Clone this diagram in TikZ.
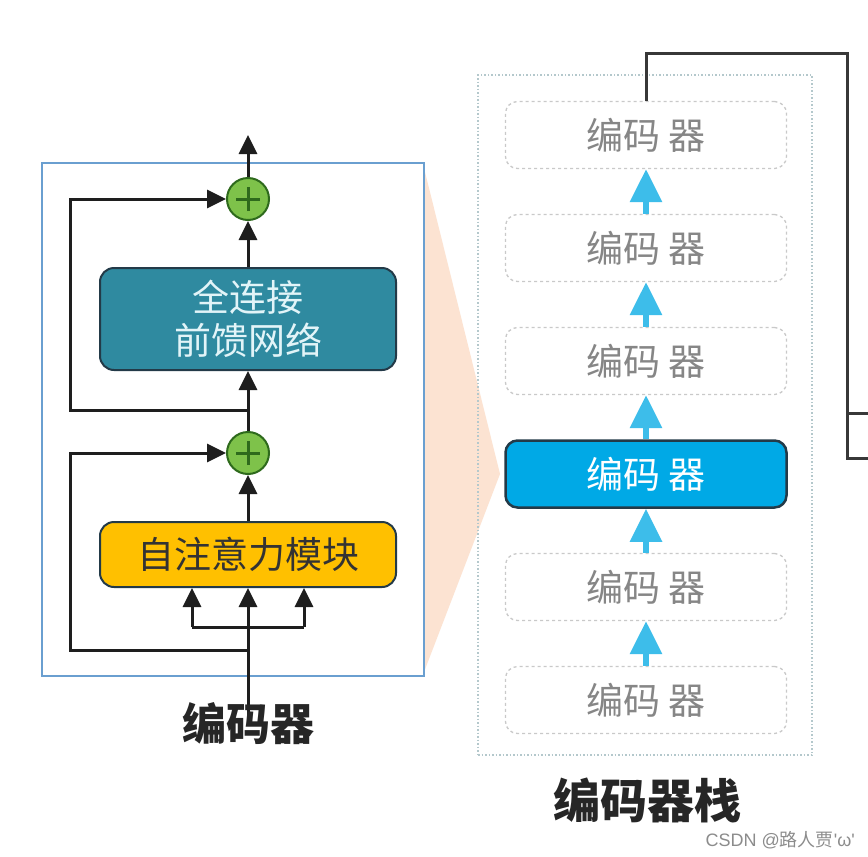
\documentclass[tikz,border=0pt]{standalone}
\usepackage{fontspec}
\setmainfont{Noto Sans CJK SC}
\newfontfamily\wmlatin{Liberation Sans}
\usetikzlibrary{arrows.meta}
\definecolor{lboxc}{HTML}{6A9FD0}
\definecolor{ffnc}{HTML}{2F8AA0}
\definecolor{ffntext}{HTML}{E2F4F8}
\definecolor{attc}{HTML}{FFC000}
\definecolor{darkb}{HTML}{233A48}
\definecolor{plusfill}{HTML}{7EC24A}
\definecolor{plusdark}{HTML}{2E6A1C}
\definecolor{hlc}{HTML}{00A9E6}
\definecolor{barrc}{HTML}{3DBDEA}
\definecolor{graytext}{HTML}{868686}
\definecolor{dashc}{HTML}{C9C9C9}
\definecolor{dotc}{HTML}{B4C8CC}
\definecolor{peach}{HTML}{FCE3D2}
\definecolor{linec}{HTML}{1E1E1E}
\tikzset{
  arr/.style={draw=linec, line width=3pt, -{Triangle[width=18pt,length=19pt]}},
  plain/.style={draw=linec, line width=3pt},
  barr/.style={draw=barrc, line width=6pt, -{Triangle[width=31pt,length=33pt]}},
  lbox/.style={draw=lboxc, line width=2.2pt, minimum width=382pt, minimum height=513pt},
  ffnbox/.style={draw=darkb, line width=2pt, fill=ffnc, rounded corners=14pt, minimum width=296pt, minimum height=102pt, text=ffntext, align=center, font=\fontsize{37}{43}\selectfont},
  attbox/.style={draw=darkb, line width=2pt, fill=attc, rounded corners=14pt, minimum width=296pt, minimum height=65pt, text=black!80, font=\fontsize{37}{43}\selectfont},
  plusnode/.style={circle, draw=plusdark, line width=2pt, fill=plusfill, minimum size=42pt, inner sep=0pt},
  encbox/.style={draw=dashc, dashed, line width=1.3pt, rounded corners=12pt, minimum width=281pt, minimum height=67pt, text=graytext, font=\fontsize{37}{40}\selectfont},
  hlbox/.style={draw=darkb, line width=2.5pt, fill=hlc, rounded corners=12pt, minimum width=281pt, minimum height=67pt, text=white, font=\fontsize{37}{40}\selectfont},
  stackbox/.style={draw=dotc, dotted, line width=1.5pt, minimum width=334pt, minimum height=680pt},
  bigtitle/.style={font=\bfseries\fontsize{44}{48}\selectfont, text=black!85},
}
\begin{document}
\begin{tikzpicture}[x=1pt,y=-1pt]
\useasboundingbox[fill=white] (0,0) rectangle (868,857);
% peach shading
\fill[peach] (424,168) -- (500,474) -- (424,672) -- cycle;
% left encoder detail
\node[lbox] (enc) at (233,419.5) {};
\node[ffnbox] (ffn) at (248,319) {全连接\\前馈网络};
\node[attbox] (att) at (248,554.5) {自注意力模块};
\node[plusnode] (p2) at (248,199) {};
\node[plusnode] (p1) at (248,453) {};
\foreach \p in {p1,p2}{
  \draw[plusdark, line width=3pt] ([xshift=-12pt]\p.center) -- ([xshift=12pt]\p.center);
  \draw[plusdark, line width=3pt] ([yshift=-12pt]\p.center) -- ([yshift=12pt]\p.center);
}
\coordinate (in) at (248,715);
\coordinate (bl) at (192,627);
\coordinate (bR) at (304,627);
\coordinate (s1) at (248,650);
\coordinate (k1a) at (70,650);
\coordinate (k1b) at (70,453);
\coordinate (s2) at (248,410);
\coordinate (k2a) at (70,410);
\coordinate (k2b) at (70,199);
\coordinate (out) at (248,135);
\draw[arr] (in) -- (att.south);
\draw[plain] (bl) -- (bR);
\draw[arr] (bl) -- (bl |- att.south);
\draw[arr] (bR) -- (bR |- att.south);
\draw[arr] (s1) -- (k1a) -- (k1b) -- (p1.west);
\draw[arr] (att.north) -- (p1.south);
\draw[arr] (p1.north) -- (ffn.south);
\draw[arr] (s2) -- (k2a) -- (k2b) -- (p2.west);
\draw[arr] (ffn.north) -- (p2.south);
\draw[arr] (p2.north) -- (out);
\node[bigtitle] (lbl) at (248,724) {编码器};
% encoder stack
\node[stackbox] (stack) at (645,415) {};
\node[encbox] (e1) at (646,135) {编码 器};
\node[encbox] (e2) at (646,248) {编码 器};
\node[encbox] (e3) at (646,361) {编码 器};
\node[hlbox]  (e4) at (646,474) {编码 器};
\node[encbox] (e5) at (646,587) {编码 器};
\node[encbox] (e6) at (646,700) {编码 器};
\draw[barr] (e2.north) -- (e1.south);
\draw[barr] (e3.north) -- (e2.south);
\draw[barr] (e4.north) -- (e3.south);
\draw[barr] (e5.north) -- (e4.south);
\draw[barr] (e6.north) -- (e5.south);
\node[bigtitle, font=\bfseries\fontsize{47}{50}\selectfont] (slbl) at (647,800) {编码器栈};
% output line to the right
\coordinate (t1) at (646,53);
\coordinate (t2) at (847,53);
\coordinate (t3) at (847,458);
\coordinate (t4) at (868,458);
\coordinate (t5) at (847,413);
\coordinate (t6) at (868,413);
\draw[draw=black!78, line width=3pt] (e1.north) -- (t1) -- (t2) -- (t3) -- (t4);
\draw[draw=black!78, line width=3pt] (t5) -- (t6);
% watermark
\node[text=black!45, font=\fontsize{18}{20}\selectfont, anchor=east, inner sep=0pt] (wm) at (855,840) {{\wmlatin CSDN @}路人贾{\wmlatin \char"0027 ω\char"0027}};
\end{tikzpicture}
\end{document}
